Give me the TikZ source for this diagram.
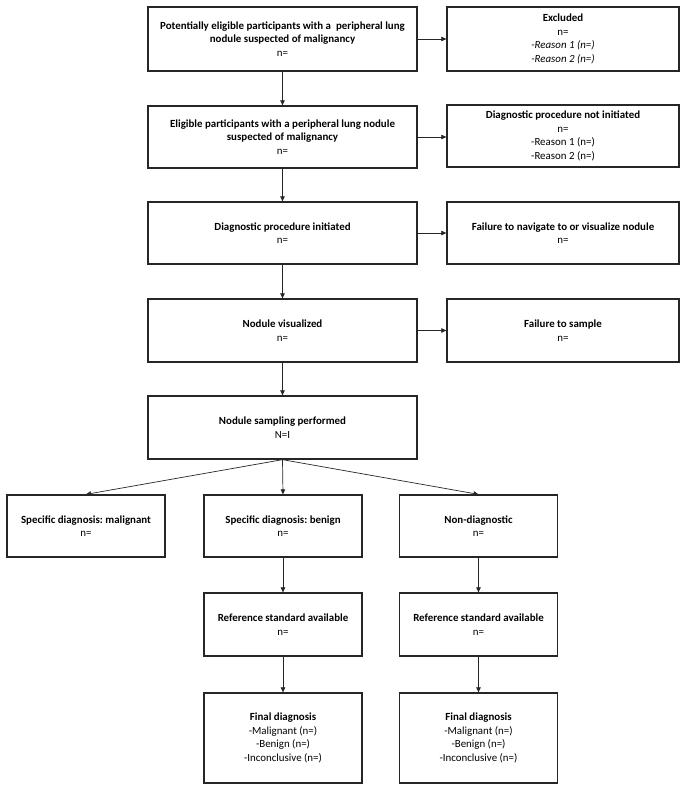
\documentclass[tikz,border=0pt]{standalone}
\usepackage{fontspec}
\setmainfont{Carlito}
\usepackage{tikz}
\usetikzlibrary{positioning,arrows.meta}
\frenchspacing

\begin{document}
\begin{tikzpicture}[x=1pt, y=-1pt,
    box/.style={draw=black!85, line width=1.3pt, align=center, inner sep=2pt,
        font=\fontsize{10.9}{13.4}\selectfont},
    wide/.style={box, minimum width=269pt},
    side/.style={box, minimum width=232pt},
    small/.style={box, minimum width=158pt},
    arr/.style={-{Triangle[length=5pt,width=4.5pt]}, line width=0.7pt, black!85}]
    \useasboundingbox (0,0) rectangle (685,788);

    % --- Main column ---
    \node[wide, minimum height=64pt] (pot) at (282.5, 39)
        {\textbf{Potentially eligible participants with a\ \ peripheral lung}\\
         \textbf{nodule suspected of malignancy}\\ n=};
    \node[wide, minimum height=62pt] (elig) at (282.5, 137)
        {\textbf{Eligible participants with a peripheral lung nodule}\\
         \textbf{suspected of malignancy}\\ n=};
    \node[wide, minimum height=62pt] (init) at (282.5, 233)
        {\textbf{Diagnostic procedure initiated}\\ n=};
    \node[wide, minimum height=63pt] (vis) at (282.5, 330.5)
        {\textbf{Nodule visualized}\\ n=};
    \node[wide, minimum height=63pt] (samp) at (282.5, 427.5)
        {\textbf{Nodule sampling performed}\\ N=I};

    % --- Side boxes ---
    \node[side, minimum height=64pt] (excl) at (563, 39)
        {\textbf{Excluded}\\ n=\\ \textit{-Reason 1 (n=)}\\ \textit{-Reason 2 (n=)}};
    \node[side, minimum height=62pt] (notinit) at (563, 136)
        {\textbf{Diagnostic procedure not initiated}\\ n=\\ -Reason 1 (n=)\\ -Reason 2 (n=)};
    \node[side, minimum height=62pt] (nonav) at (563, 233)
        {\textbf{Failure to navigate to or visualize nodule}\\ n=};
    \node[side, minimum height=63pt] (nosamp) at (563, 330.5)
        {\textbf{Failure to sample}\\ n=};

    % --- Outcome boxes ---
    \node[small, minimum height=62pt] (malig) at (86, 526)
        {\textbf{Specific diagnosis: malignant}\\ n=};
    \node[small, minimum height=62pt] (benign) at (283, 526)
        {\textbf{Specific diagnosis: benign}\\ n=};
    \node[small, minimum height=62pt] (nondiag) at (478.5, 526)
        {\textbf{Non-diagnostic}\\ n=};
    \node[small, minimum height=63pt] (refa) at (283, 624.5)
        {\textbf{Reference standard available}\\ n=};
    \node[small, minimum height=63pt] (refb) at (478.5, 624.5)
        {\textbf{Reference standard available}\\ n=};
    \node[small, minimum height=90pt] (fina) at (283, 738)
        {\textbf{Final diagnosis}\\ -Malignant (n=)\\ -Benign (n=)\\ -Inconclusive (n=)};
    \node[small, minimum height=90pt] (finb) at (478.5, 738)
        {\textbf{Final diagnosis}\\ -Malignant (n=)\\ -Benign (n=)\\ -Inconclusive (n=)};

    % --- Connectors ---
    \draw[arr] (pot) -- (elig);
    \draw[arr] (elig) -- (init);
    \draw[arr] (init) -- (vis);
    \draw[arr] (vis) -- (samp);
    \draw[arr] (pot) -- (excl);
    \draw[arr] (elig) -- (elig -| notinit.west);
    \draw[arr] (init) -- (nonav);
    \draw[arr] (vis) -- (nosamp);

    \draw[arr] (samp.south) -- (malig.north);
    \draw[arr] (samp.south) -- (benign.north);
    \draw[arr] (samp.south) -- (nondiag.north);
    \draw[arr] (benign) -- (refa);
    \draw[arr] (nondiag) -- (refb);
    \draw[arr] (refa) -- (fina);
    \draw[arr] (refb) -- (finb);
\end{tikzpicture}
\end{document}
